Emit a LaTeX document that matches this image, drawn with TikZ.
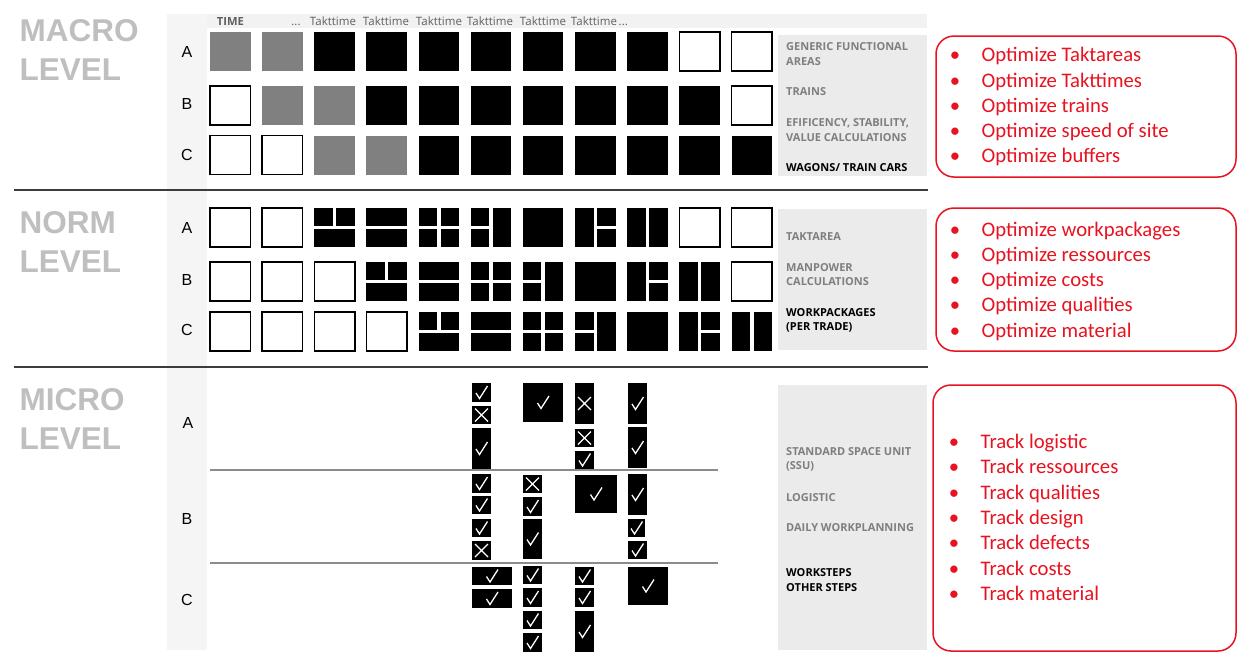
\documentclass[tikz,border=0pt]{standalone}
\usepackage{fontspec}
\setmainfont{Open Sans}
\newfontfamily\arialf{Liberation Sans}
\newfontfamily\calf{Carlito}
\newfontfamily\opsans{Open Sans}
\definecolor{ttl}{RGB}{191,191,191}
\definecolor{lbl}{RGB}{127,127,127}
\definecolor{hdr}{RGB}{95,95,95}
\definecolor{redc}{RGB}{232,18,32}
\definecolor{colbg}{RGB}{245,245,245}
\definecolor{hdrbg}{RGB}{242,242,242}
\definecolor{boxbg}{RGB}{235,235,235}
\definecolor{gsq}{RGB}{128,128,128}
\definecolor{sepc}{RGB}{60,60,60}
\definecolor{msep}{RGB}{140,140,140}
\tikzset{
  wsq/.style={draw=black, line width=1.4, fill=white},
  ckm/.style={draw=white, line width=1.3},
  sepline/.style={draw=sepc, line width=2},
  microline/.style={draw=msep, line width=1.5},
  lvl/.style={anchor=base west, inner sep=0, text=ttl, font=\arialf\bfseries\fontsize{31.5}{36}\selectfont},
  rowl/.style={anchor=center, inner sep=0, font=\arialf\fontsize{16}{18}\selectfont},
  rl/.style={anchor=base west, inner sep=0, text=lbl, font=\opsans\bfseries\fontsize{11}{13}\selectfont},
  rlk/.style={rl, text=black},
  hd/.style={anchor=base, inner sep=0, text=hdr, font=\opsans\fontsize{11.5}{13}\selectfont},
  hdb/.style={hd, font=\opsans\bfseries\fontsize{11.2}{13}\selectfont},
  redbox/.style={draw=redc, line width=1.5, rounded corners=18},
  bul/.style={anchor=base, inner sep=0, text=redc, font=\calf\fontsize{20.7}{25}\selectfont},
  itm/.style={anchor=base west, inner sep=0, text=redc, font=\calf\fontsize{20.7}{25}\selectfont},
}
\def\drawcell#1#2#3{%
\def\cX{#2}\def\cY{#3}%
\ifcase#1\relax
\draw[wsq] (\cX,\cY) rectangle ++(40.5,39);
\or \fill[gsq] (\cX,\cY) rectangle ++(40.5,39);
\or \fill[black] (\cX,\cY) rectangle ++(40.5,39);
\or
\fill (\cX,\cY) rectangle ++(18.5,17.75);
\fill (\cX+22,\cY) rectangle ++(18.5,17.75);
\fill (\cX,\cY+21.25) rectangle ++(40.5,17.75);
\or
\fill (\cX,\cY) rectangle ++(40.5,17.75);
\fill (\cX,\cY+21.25) rectangle ++(40.5,17.75);
\or
\fill (\cX,\cY) rectangle ++(18.5,17.75);
\fill (\cX+22,\cY) rectangle ++(18.5,17.75);
\fill (\cX,\cY+21.25) rectangle ++(18.5,17.75);
\fill (\cX+22,\cY+21.25) rectangle ++(18.5,17.75);
\or
\fill (\cX,\cY) rectangle ++(18.5,17.75);
\fill (\cX,\cY+21.25) rectangle ++(18.5,17.75);
\fill (\cX+22,\cY) rectangle ++(18.5,39);
\or
\fill (\cX,\cY) rectangle ++(40.5,39);
\or
\fill (\cX,\cY) rectangle ++(18.5,39);
\fill (\cX+22,\cY) rectangle ++(18.5,17.75);
\fill (\cX+22,\cY+21.25) rectangle ++(18.5,17.75);
\or
\fill (\cX,\cY) rectangle ++(18.5,39);
\fill (\cX+22,\cY) rectangle ++(18.5,39);
\fi}
\def\mitem#1#2#3#4#5{%
\fill (#1,#2) rectangle ++(#3,#4);
\begin{scope}[shift={({#1+#3/2},{#2+#4/2})}]
\ifnum#5=0 \draw[ckm] (-5.5,0.5) -- (-2,6) -- (6,-6.5);
\else \draw[ckm] (-6.5,-6.5) -- (6.5,6.5) (-6.5,6.5) -- (6.5,-6.5);\fi
\end{scope}}
\begin{document}
\begin{tikzpicture}[x=1pt,y=-1pt]
\useasboundingbox[fill=white] (0,0) rectangle (1237,662);
% backgrounds
\fill[colbg] (167,14) rectangle (206.5,650);
\fill[hdrbg] (206.5,14) rectangle (927,28);
\fill[boxbg] (778,35) rectangle (927,176);
\fill[boxbg] (778,209) rectangle (927,350);
\fill[boxbg] (778,385) rectangle (927,650);
% separators
\draw[sepline] (14,190) -- (928,190);
\draw[sepline] (14,367) -- (928,367);
\draw[microline] (210,470) -- (718,470);
\draw[microline] (210,563) -- (718,563);
% level titles
\node[lvl] (t1a) at (19.5,41) {MACRO};
\node[lvl] (t1b) at (19.5,80) {LEVEL};
\node[lvl] (t2a) at (19.5,233) {NORM};
\node[lvl] (t2b) at (19.5,272) {LEVEL};
\node[lvl] (t3a) at (19.5,410) {MICRO};
\node[lvl] (t3b) at (19.5,449) {LEVEL};
% row letters
\node[rowl] (ma) at (187,52) {A};
\node[rowl] (mb) at (187,104) {B};
\node[rowl] (mc) at (187,155) {C};
\node[rowl] (na) at (187,228) {A};
\node[rowl] (nb) at (187,280) {B};
\node[rowl] (nc) at (187,330) {C};
\node[rowl] (ua) at (188,423) {A};
\node[rowl] (ub) at (187,519) {B};
\node[rowl] (uc) at (187,600) {C};
% header
\node[hdb] (h0) at (230.5,25.5) {TIME};
\node[hd] (h1) at (296,25.5) {...};
\foreach \hx [count=\k] in {333,386,439,490,543,594}
  \node[hd] (hk\k) at (\hx,25.5) {Takttime};
\node[hd, anchor=base west] (h2) at (618.5,25.5) {...};
% macro grid
\foreach \c [count=\i from 0] in {1,1,2,2,2,2,2,2,2,0,0} {\drawcell{\c}{210+52.15*\i}{32}}
\foreach \c [count=\i from 0] in {0,1,1,2,2,2,2,2,2,2,0} {\drawcell{\c}{210+52.15*\i}{86}}
\foreach \c [count=\i from 0] in {0,0,1,1,2,2,2,2,2,2,2} {\drawcell{\c}{210+52.15*\i}{135.5}}
% norm grid
\foreach \c [count=\i from 0] in {0,0,3,4,5,6,7,8,9,0,0} {\drawcell{\c}{210+52.15*\i}{208}}
\foreach \c [count=\i from 0] in {0,0,0,3,4,5,6,7,8,9,0} {\drawcell{\c}{210+52.15*\i}{262}}
\foreach \c [count=\i from 0] in {0,0,0,0,3,4,5,6,7,8,9} {\drawcell{\c}{210+52.15*\i}{312}}
% micro items
\foreach \a/\b/\w/\h/\t in {
 472/383/19/19/0, 472/406/19/18/1, 472/428/19/41/0, 472/474/19/19/0, 472/496/19/18/0,
 472/519/19/18/0, 472/541/19/19/1, 472/567/40/18/0, 472/589/40/19/0,
 523/383/40/39/0, 523/475/19/18/1, 523/497/19/19/0, 523/519/19/40/0, 523/566/19/18/0,
 523/588/19/19/0, 523/611/19/18/0, 523/633/19/19/0,
 575/383/19/41/1, 575/429/19/18/1, 575/451/19/18/0, 575/475/42/38/0, 575/567/19/18/0,
 575/588/19/19/0, 575/611/19/41/0,
 628/383/19/41/0, 628/427/19/41/0, 628/474/19/41/0, 628/519/17/18/0, 628/541/19/18/0,
 628/567/40/38/0}
 {\mitem{\a}{\b}{\w}{\h}{\t}}
% right labels
\node[rl] (l1) at (786,50) {GENERIC FUNCTIONAL};
\node[rl] (l2) at (786,65) {AREAS};
\node[rl] (l3) at (786,95) {TRAINS};
\node[rl] (l4) at (786,126) {EFIFICENCY, STABILITY,};
\node[rl] (l5) at (786,141) {VALUE CALCULATIONS};
\node[rlk] (l6) at (786,171.5) {WAGONS/ TRAIN CARS};
\node[rl] (l7) at (786,240) {TAKTAREA};
\node[rl] (l8) at (786,271.5) {MANPOWER};
\node[rl] (l9) at (786,285.5) {CALCULATIONS};
\node[rlk] (l10) at (786,316) {WORKPACKAGES};
\node[rlk] (l11) at (786,330.5) {(PER TRADE)};
\node[rl] (l12) at (786,455.5) {STANDARD SPACE UNIT};
\node[rl] (l13) at (786,469.5) {(SSU)};
\node[rl] (l14) at (786,501) {LOGISTIC};
\node[rl] (l15) at (786,531.5) {DAILY WORKPLANNING};
\node[rlk] (l16) at (786,576.5) {WORKSTEPS};
\node[rlk] (l17) at (786,591.5) {OTHER STEPS};
% red boxes
\draw[redbox] (936,36) rectangle (1236,177);
\draw[redbox] (936,208) rectangle (1236,351);
\draw[redbox] (933,385) rectangle (1236,651);
\foreach \t [count=\k from 0] in {Optimize Taktareas,Optimize Takttimes,Optimize trains,Optimize speed of site,Optimize buffers}
 {\node[bul] (ba\k) at (955,61.7+25.3*\k) {•};
  \node[itm] (ia\k) at (981.5,61.7+25.3*\k) {\t};}
\foreach \t [count=\k from 0] in {Optimize workpackages,Optimize ressources,Optimize costs,Optimize qualities,Optimize material}
 {\node[bul] (bb\k) at (955,236+25.3*\k) {•};
  \node[itm] (ib\k) at (981.5,236+25.3*\k) {\t};}
\foreach \t [count=\k from 0] in {Track logistic,Track ressources,Track qualities,Track design,Track defects,Track costs,Track material}
 {\node[bul] (bc\k) at (954,448.5+25.3*\k) {•};
  \node[itm] (ic\k) at (980.5,448.5+25.3*\k) {\t};}
\end{tikzpicture}
\end{document}
